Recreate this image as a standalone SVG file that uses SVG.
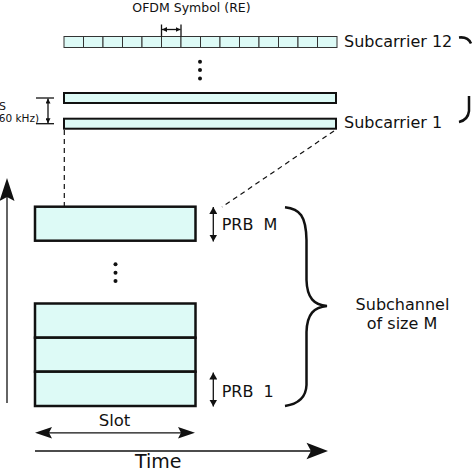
<svg xmlns="http://www.w3.org/2000/svg" width="474" height="474" viewBox="0 0 474 474">
<defs>
<style>
.t{font-family:"DejaVu Sans","Verdana",sans-serif;fill:#111}
.cell{fill:#ddfaf6;stroke:#333;stroke-width:1}
.bar{fill:#ddfaf6;stroke:#111;stroke-width:2}
.box{fill:#ddfaf6;stroke:#111;stroke-width:2.5}
.ln{fill:none;stroke:#111;stroke-width:1.3}
.dash{fill:none;stroke:#111;stroke-width:1.2;stroke-dasharray:5 4}
.brace{fill:none;stroke:#111;stroke-width:2.5}
</style>
<marker id="sa" viewBox="0 0 10 10" refX="10" refY="5" markerWidth="5" markerHeight="5" markerUnits="userSpaceOnUse" orient="auto-start-reverse">
<path d="M0,0L10,5L0,10z" fill="#111"/>
</marker>
<marker id="ma" viewBox="0 0 10 10" refX="10" refY="5" markerWidth="7" markerHeight="8" markerUnits="userSpaceOnUse" orient="auto-start-reverse" preserveAspectRatio="none">
<path d="M0,0L10,5L0,10z" fill="#111"/>
</marker>
</defs>

<g id="re-row">
<rect class="cell" x="64" y="36.5" width="19.5" height="11"/>
<rect class="cell" x="83.5" y="36.5" width="19.5" height="11"/>
<rect class="cell" x="103" y="36.5" width="19.5" height="11"/>
<rect class="cell" x="122.5" y="36.5" width="19.5" height="11"/>
<rect class="cell" x="142" y="36.5" width="19.5" height="11"/>
<rect class="cell" x="161.5" y="36.5" width="19.5" height="11"/>
<rect class="cell" x="181" y="36.5" width="19.5" height="11"/>
<rect class="cell" x="200.5" y="36.5" width="19.5" height="11"/>
<rect class="cell" x="220" y="36.5" width="19.5" height="11"/>
<rect class="cell" x="239.5" y="36.5" width="19.5" height="11"/>
<rect class="cell" x="259" y="36.5" width="19.5" height="11"/>
<rect class="cell" x="278.5" y="36.5" width="19.5" height="11"/>
<rect class="cell" x="298" y="36.5" width="19.5" height="11"/>
<rect class="cell" x="317.5" y="36.5" width="19.5" height="11"/>
</g>
<g id="re-label">
<text class="t" x="191.5" y="11.5" font-size="12.5" text-anchor="middle">OFDM Symbol (RE)</text>
<line class="ln" x1="161.5" y1="24.5" x2="161.5" y2="36.5" stroke-width="1"/>
<line class="ln" x1="181" y1="24.5" x2="181" y2="36.5" stroke-width="1"/>
<line class="ln" x1="162" y1="29.5" x2="180.5" y2="29.5" stroke-width="1" marker-start="url(#sa)" marker-end="url(#sa)"/>
</g>
<g id="dots-top" fill="#111">
<circle cx="200" cy="61.7" r="2"/>
<circle cx="200" cy="70" r="2"/>
<circle cx="200" cy="78.5" r="2"/>
</g>
<g id="subcarrier-bars">
<rect class="bar" x="64" y="93" width="272" height="10"/>
<rect class="bar" x="64" y="118.7" width="272" height="10"/>
</g>
<g id="subcarrier-labels">
<text class="t" x="344" y="47.3" font-size="16">Subcarrier 12</text>
<text class="t" x="344" y="128.3" font-size="16">Subcarrier 1</text>
</g>
<g id="small-brace">
<path class="brace" stroke-width="2" d="M459,37.5 Q468,36.5 471,43.5"/>
<path class="brace" stroke-width="2" d="M469,96 L469,111 Q468,120 459,122"/>
</g>
<g id="scs-dim">
<line class="ln" x1="36" y1="98" x2="54" y2="98" stroke-width="1"/>
<line class="ln" x1="36" y1="123.7" x2="54" y2="123.7" stroke-width="1"/>
<line class="ln" x1="48" y1="98.5" x2="48" y2="123.2" stroke-width="1.2" marker-start="url(#sa)" marker-end="url(#sa)"/>
<text class="t" x="6" y="110" font-size="11" text-anchor="end">S</text>
<text class="t" x="39" y="121.5" font-size="10.5" text-anchor="end">60 kHz)</text>
</g>

<g id="connectors">
<line class="dash" x1="64.3" y1="130" x2="64.3" y2="206"/>
<line class="dash" x1="334" y1="131" x2="222" y2="207"/>
</g>

<g id="prb-m">
<rect class="box" x="35" y="206.7" width="160.5" height="34"/>
<line class="ln" x1="213.3" y1="207" x2="213.3" y2="241.5" stroke-width="1.5" marker-start="url(#ma)" marker-end="url(#ma)"/>
<text class="t" x="221.7" y="230" font-size="16" xml:space="preserve">PRB  M</text>
</g>
<g id="dots-mid" fill="#111">
<circle cx="115.5" cy="264.3" r="2"/>
<circle cx="115.5" cy="272.7" r="2"/>
<circle cx="115.5" cy="281" r="2"/>
</g>
<g id="prb-stack">
<rect class="box" x="35" y="303.5" width="160.5" height="34.2"/>
<rect class="box" x="35" y="337.7" width="160.5" height="34"/>
<rect class="box" x="35" y="371.7" width="160.5" height="34.3"/>
<line class="ln" x1="213.3" y1="372.5" x2="213.3" y2="406.5" stroke-width="1.5" marker-start="url(#ma)" marker-end="url(#ma)"/>
<text class="t" x="221.7" y="397.3" font-size="16" xml:space="preserve">PRB  1</text>
</g>
<g id="subchannel">
<path class="brace" d="M285,207.3 C300,209 306,216 306.5,240 L306.5,280 C307,298 314,305 327,306 C314,307 307,314 306.5,332 L306.5,385 C306,398 298,404 285,406"/>
<text class="t" x="402.5" y="310" font-size="16" text-anchor="middle">Subchannel</text>
<text class="t" x="402" y="329" font-size="16" text-anchor="middle">of size M</text>
</g>
<g id="slot">
<text class="t" x="114.5" y="425.7" font-size="16.5" text-anchor="middle">Slot</text>
<line class="ln" x1="45" y1="432.8" x2="185" y2="432.8" stroke-width="2"/>
<path d="M35,432.8L52,427L49,432.8L52,438.5z" fill="#111"/>
<path d="M195,432.8L178,427L181,432.8L178,438.5z" fill="#111"/>
</g>
<g id="axes">
<line class="ln" x1="35" y1="451" x2="312" y2="451" stroke-width="2"/>
<path d="M328,451L306.5,442.7L311,451L306.5,459.3z" fill="#111"/>
<text class="t" x="135" y="468" font-size="19">Time</text>
<line class="ln" x1="7" y1="196" x2="7" y2="403" stroke-width="2"/>
<path d="M7,178L-0.5,201L7,197L14.5,201z" fill="#111"/>
</g>
</svg>
